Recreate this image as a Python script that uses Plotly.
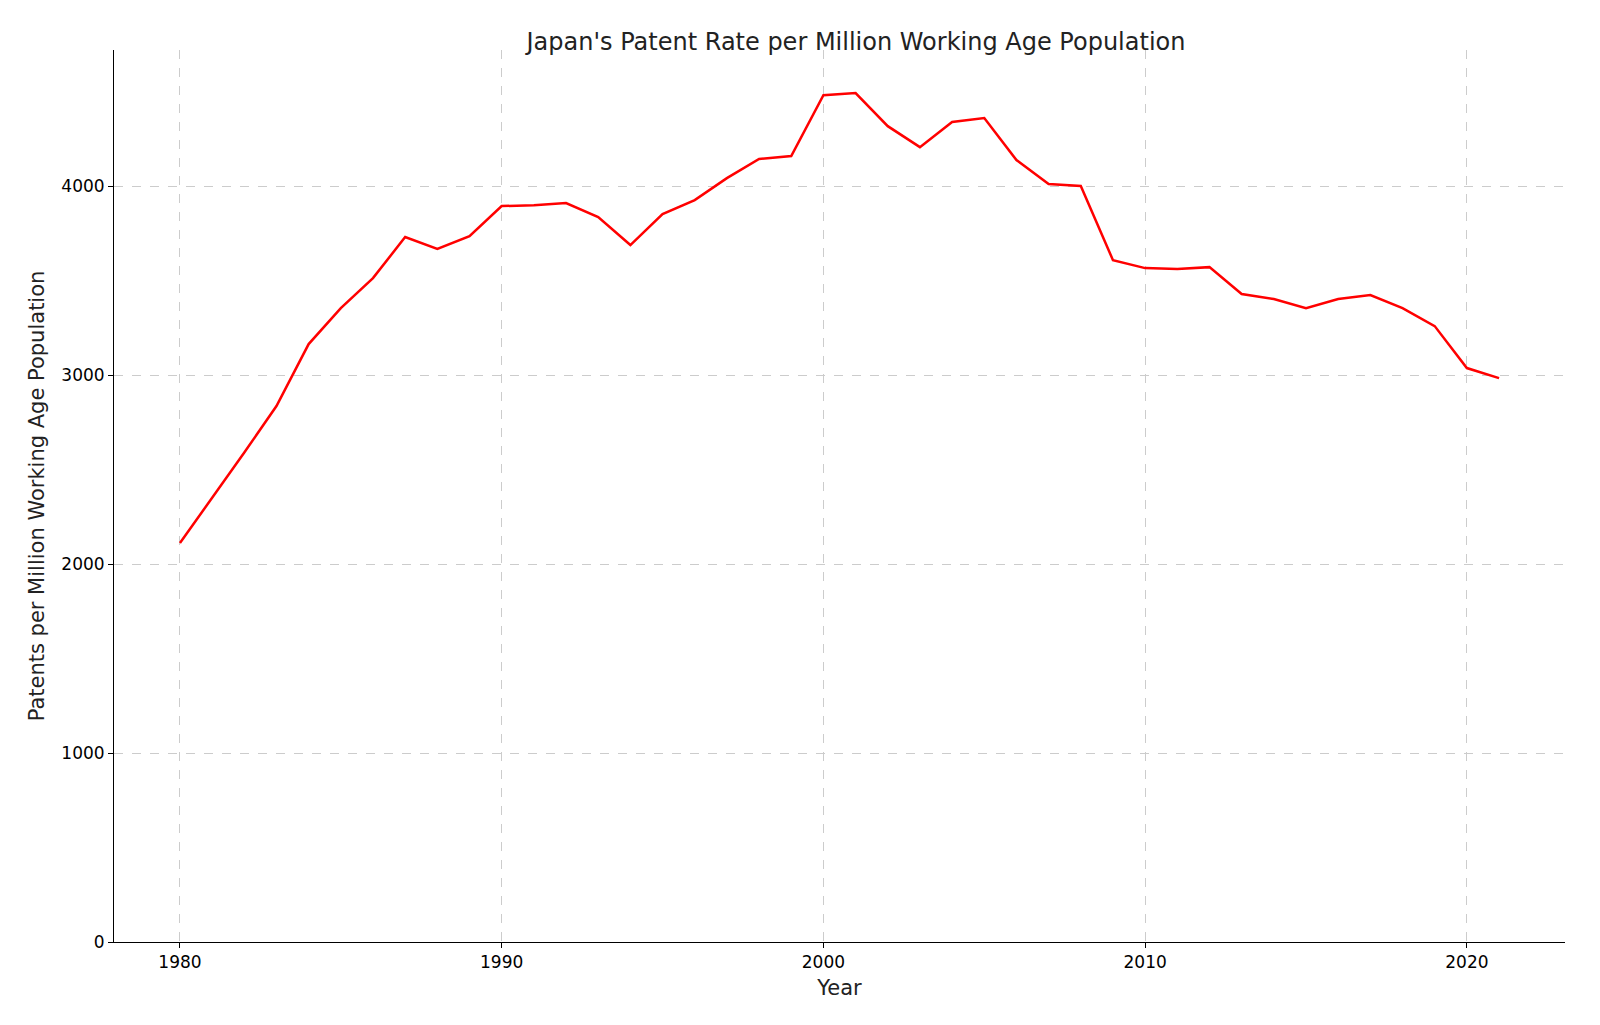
import plotly.graph_objects as go

years = list(range(1980, 2022))
patents = [2111, 2350, 2590, 2836, 3164, 3354, 3513, 3730, 3667, 3735,
           3894, 3899, 3910, 3836, 3688, 3852, 3926, 4042, 4143, 4159,
           4481, 4492, 4317, 4206, 4339, 4360, 4138, 4011, 4000, 3608,
           3566, 3561, 3571, 3429, 3402, 3354, 3402, 3423, 3354, 3259,
           3037, 2984]

fig = go.Figure(go.Scatter(x=years, y=patents, mode="lines",
                           line=dict(color="red", width=2.5)))

axis_common = dict(showline=True, linecolor="black", linewidth=1, ticks="outside",
                   ticklen=5, tickcolor="black", showgrid=True, gridcolor="#cccccc",
                   griddash="dash", gridwidth=1, zeroline=False,
                   tickfont=dict(size=17, color="black"), mirror=False)

fig.update_layout(
    width=1600, height=1025, plot_bgcolor="white", paper_bgcolor="white",
    font=dict(family="DejaVu Sans", color="#222"),
    title=dict(text="Japan's Patent Rate per Million Working Age Population",
               x=0.53, xanchor="center", y=0.975, font=dict(size=24)),
    margin=dict(l=106, r=43, t=42, b=91),
    showlegend=False,
    xaxis=dict(range=[1977.95, 2023.05], tickvals=[1980, 1990, 2000, 2010, 2020],
               title=dict(text="Year", font=dict(size=21), standoff=8), **axis_common),
    yaxis=dict(range=[0, 4720], tickvals=[0, 1000, 2000, 3000, 4000],
               title=dict(text="Patents per Million Working Age Population",
                          font=dict(size=21), standoff=10), **axis_common),
)
fig.write_html("out.html")
